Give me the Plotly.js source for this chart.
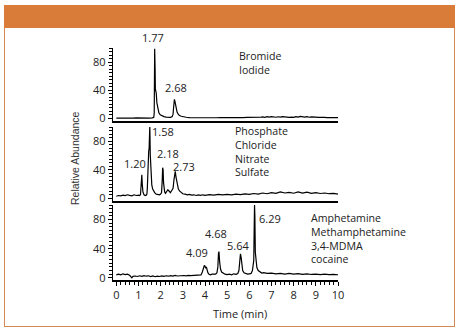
<!DOCTYPE html>
<html>
<head>
<meta charset="utf-8">
<script src="https://cdn.plot.ly/plotly-3.0.1.min.js"></script>
<style>
  html, body { margin: 0; padding: 0; background: #ffffff; }
  #frame { position: absolute; left: 4px; top: 5px; width: 449px; height: 320px; border: 1px solid #d38a55; background: #ffffff; }
  #bar { position: absolute; left: 4px; top: 5px; width: 451px; height: 23px; background: #d97c3a; }
  #chart { position: absolute; left: 0; top: 0; width: 459px; height: 330px; }
</style>
</head>
<body>
<div id="frame"></div>
<div id="bar"></div>
<div id="chart"></div>
<script>
// ---- Data (time in min, relative abundance) ----
const topTrace = [[0,0.5],[0.15,0.3],[0.3,0.6],[0.45,0.4],[0.6,0.5],[0.75,0.3],[0.9,0.6],[1.05,0.4],[1.2,0.5],[1.35,0.7],[1.5,0.5],[1.62,0.8],[1.69,1.5],[1.71,8],[1.72,45],[1.73,99],[1.74,97],[1.75,70],[1.76,42],[1.78,40],[1.80,36],[1.83,22],[1.87,13],[1.92,8],[1.98,5],[2.06,3.5],[2.15,2.5],[2.25,1.8],[2.35,1.5],[2.45,1.5],[2.52,2.5],[2.56,6],[2.58,14],[2.60,24],[2.62,27],[2.64,25],[2.67,19],[2.70,13],[2.74,9],[2.79,6],[2.85,4],[2.93,3],[3.02,2.2],[3.15,1.6],[3.3,1.2],[3.5,1],[3.7,0.9],[3.9,1],[4.1,0.8],[4.3,1],[4.5,0.9],[4.7,1.1],[4.9,0.9],[5.1,1],[5.3,1.2],[5.5,1],[5.7,1.1],[5.9,1.3],[6.1,1.1],[6.3,1.4],[6.5,1.6],[6.6,2.2],[6.7,1.5],[6.8,2.4],[6.9,1.7],[7.0,2.6],[7.1,2.0],[7.2,1.6],[7.3,2.3],[7.4,1.8],[7.5,2.5],[7.6,1.9],[7.7,1.6],[7.8,1.4],[7.9,1.8],[8.0,1.5],[8.1,2.6],[8.2,1.8],[8.3,2.9],[8.4,2.1],[8.5,1.7],[8.6,2.4],[8.7,1.6],[8.8,2.2],[8.9,1.5],[9.0,1.9],[9.1,1.4],[9.2,1.7],[9.3,1.3],[9.4,1.5],[9.5,1.2],[9.6,1.4],[9.7,1.1],[9.8,1.3],[9.9,1.0],[10,1.2]];

const midTrace = [[0,3],[0.1,4],[0.2,3.5],[0.3,4.5],[0.4,3.8],[0.5,5],[0.6,4.2],[0.7,3.5],[0.8,5],[0.9,4],[1.0,4.5],[1.05,4],[1.09,5],[1.11,14],[1.13,30],[1.15,33],[1.17,20],[1.2,9],[1.25,5],[1.3,4],[1.35,4.5],[1.38,6],[1.40,15],[1.42,40],[1.44,62],[1.46,66],[1.48,70],[1.50,100],[1.51,102],[1.52,85],[1.53,62],[1.55,40],[1.57,28],[1.60,19],[1.64,13],[1.68,10],[1.73,8],[1.8,6],[1.88,5.5],[1.95,5],[2.0,6],[2.04,8],[2.07,25],[2.09,43],[2.11,40],[2.13,22],[2.15,13],[2.18,9],[2.22,7],[2.27,9],[2.32,12],[2.36,11],[2.40,9],[2.44,8],[2.48,10],[2.52,12],[2.56,14],[2.60,26],[2.63,36],[2.66,38],[2.69,30],[2.72,24],[2.76,18],[2.80,13],[2.86,10],[2.93,7.5],[3.0,6.5],[3.1,6],[3.2,5],[3.3,5.5],[3.4,4.5],[3.5,5],[3.6,4],[3.7,4.8],[3.8,4.2],[3.9,5],[4.0,4.3],[4.2,5.2],[4.4,4.5],[4.6,5.5],[4.8,4.8],[5.0,5.6],[5.2,5],[5.4,6],[5.6,5.2],[5.8,6.2],[6.0,5.5],[6.2,6.8],[6.4,6],[6.6,7.5],[6.8,6.5],[7.0,8],[7.2,7],[7.4,9],[7.6,7.5],[7.8,8.5],[8.0,7.2],[8.2,9],[8.4,7.5],[8.6,8.8],[8.8,7],[9.0,8],[9.2,6.8],[9.4,7.5],[9.6,6.5],[9.8,7],[10,6]];

const botTrace = [[0,4],[0.1,5],[0.2,4],[0.3,5.5],[0.4,4.5],[0.5,5],[0.6,3.5],[0.65,1],[0.7,0],[0.75,2],[0.85,2.5],[0.95,1.8],[1.05,2.8],[1.15,2],[1.25,3],[1.35,2.2],[1.45,2.8],[1.55,1.8],[1.65,2.6],[1.75,1.5],[1.85,2.4],[1.95,1.8],[2.05,2.6],[2.15,2],[2.25,2.8],[2.35,2.2],[2.45,3],[2.55,2.4],[2.65,3.2],[2.75,2.5],[2.85,3],[2.95,2.6],[3.05,3.2],[3.15,2.8],[3.25,3.4],[3.35,2.9],[3.45,3.2],[3.55,2.8],[3.65,3.5],[3.75,3.2],[3.82,4],[3.88,8],[3.93,14],[3.97,17],[4.0,16],[4.03,13],[4.06,15],[4.09,11],[4.13,7],[4.18,5],[4.25,4],[4.32,5],[4.4,4.5],[4.48,5],[4.54,7],[4.58,15],[4.61,34],[4.63,36],[4.66,22],[4.7,12],[4.75,8],[4.82,6],[4.9,5],[5.0,4.5],[5.1,5],[5.2,4.2],[5.3,5.5],[5.4,4.8],[5.48,6],[5.53,10],[5.57,26],[5.6,33],[5.63,28],[5.66,16],[5.7,10],[5.76,7],[5.84,6],[5.92,5],[6.0,5.5],[6.08,6],[6.14,10],[6.18,22],[6.2,24],[6.22,70],[6.235,100],[6.25,85],[6.27,35],[6.3,22],[6.34,14],[6.4,10],[6.48,8],[6.56,6.5],[6.65,7],[6.8,6],[7.0,6.5],[7.2,5.5],[7.4,6.2],[7.6,5.2],[7.8,6],[8.0,5],[8.2,5.8],[8.4,4.8],[8.6,5.5],[8.8,4.6],[9.0,5.2],[9.2,4.5],[9.4,5],[9.6,4.3],[9.8,4.8],[10,4.2]];

const topPeakLabels = ["1.77", "2.68"];
const midPeakLabels = ["1.58", "1.20", "2.18", "2.73"];
const botPeakLabels = ["4.09", "4.68", "5.64", "6.29"];

const topNames = ["Bromide", "Iodide"];
const midNames = ["Phosphate", "Chloride", "Nitrate", "Sulfate"];
const botNames = ["Amphetamine", "Methamphetamine", "3,4-MDMA", "cocaine"];

const xTickVals = [0,1,2,3,4,5,6,7,8,9,10];
const yTickVals = [0,40,80];

const xTitle = "Time (min)";
const yTitle = "Relative Abundance";

// ---- Layout geometry (pixels) ----
const W = 459, H = 330;
const plotL = 113, plotR = 338, plotT = 48, plotB = 280;
const pw = plotR - plotL, ph = plotB - plotT;
const px = (x) => (x - plotL) / pw;
const py = (y) => (plotB - y) / ph;

const topLabelPos = [[153,38],[176,87]];
const midLabelPos = [[163,131.5],[134.5,163],[168,153],[184,166.5]];
const botLabelPos = [[197,252.5],[216,233],[238,245.5],[270,218]];
// left x, vertical centre of the text block
const topNamePos = [238, 62.5];
const midNamePos = [234, 151.5];
const botNamePos = [310, 238];

const FONT = "Open Sans, Noto Sans, sans-serif";
const TXT = "#222";

function mkTrace(d, xa, ya) {
  return {
    x: d.map(p => p[0]), y: d.map(p => p[1]),
    xaxis: xa, yaxis: ya, type: "scatter", mode: "lines",
    line: { color: "#000", width: 1.2 }, hoverinfo: "skip", showlegend: false
  };
}

const data = [
  mkTrace(topTrace, "x", "y"),
  mkTrace(midTrace, "x2", "y2"),
  mkTrace(botTrace, "x3", "y3")
];

const annotations = [];
function addLabels(labels, pos) {
  labels.forEach((t, i) => annotations.push({
    text: t, xref: "paper", yref: "paper", x: px(pos[i][0]), y: py(pos[i][1]),
    xanchor: "center", yanchor: "middle", showarrow: false, borderpad: 0,
    font: { family: FONT, size: 11, color: TXT }
  }));
}
function addNames(names, p0) {
  annotations.push({
    text: names.join("<br>"), xref: "paper", yref: "paper", x: px(p0[0]), y: py(p0[1]),
    xanchor: "left", yanchor: "middle", align: "left", showarrow: false, borderpad: 0,
    font: { family: FONT, size: 10.6, color: TXT }
  });
}
addLabels(topPeakLabels, topLabelPos);
addLabels(midPeakLabels, midLabelPos);
addLabels(botPeakLabels, botLabelPos);
addNames(topNames, topNamePos);
addNames(midNames, midNamePos);
addNames(botNames, botNamePos);

annotations.push({
  text: yTitle, xref: "paper", yref: "paper", x: px(75), y: py(158),
  xanchor: "center", yanchor: "middle", textangle: -90, showarrow: false,
  font: { family: "Liberation Sans, Arial, sans-serif", size: 10.5, color: "#333" }
});
annotations.push({
  text: xTitle, xref: "paper", yref: "paper", x: px(240), y: py(313),
  xanchor: "center", yanchor: "middle", showarrow: false,
  font: { family: FONT, size: 11, color: TXT }
});

const xRange = [-0.15, 10.0];
const yRange = [-3, 100];

function xAxis(anchor, showLabels) {
  const a = {
    domain: [0, 1], range: xRange, anchor: anchor, fixedrange: true,
    showline: true, linecolor: "#000", linewidth: 2, showgrid: false, zeroline: false,
    showticklabels: showLabels
  };
  if (showLabels) {
    Object.assign(a, {
      tickmode: "array", tickvals: xTickVals, ticks: "outside", ticklen: 4, tickwidth: 1, tickcolor: "#000",
      tickfont: { family: FONT, size: 11, color: TXT },
      minor: { dtick: 0.2, ticks: "outside", ticklen: 3, tickwidth: 1, tickcolor: "#000", showgrid: false }
    });
  } else {
    a.ticks = "";
  }
  return a;
}
function yAxis(domPx, anchor) {
  return {
    domain: [py(domPx[1]), py(domPx[0])], range: yRange, anchor: anchor, fixedrange: true,
    showline: true, linecolor: "#000", linewidth: 1.2, showgrid: false, zeroline: false,
    tickmode: "array", tickvals: yTickVals, ticks: "outside", ticklen: 4, tickwidth: 1, tickcolor: "#000",
    tickfont: { family: FONT, size: 11, color: TXT },
    minor: { dtick: 5, ticks: "outside", ticklen: 2.5, tickwidth: 1, tickcolor: "#000", showgrid: false }
  };
}

const layout = {
  width: W, height: H,
  margin: { l: plotL, r: W - plotR, t: plotT, b: H - plotB, pad: 0 },
  paper_bgcolor: "rgba(0,0,0,0)", plot_bgcolor: "rgba(0,0,0,0)",
  showlegend: false,
  xaxis: xAxis("y", false),
  xaxis2: xAxis("y2", false),
  xaxis3: xAxis("y3", true),
  yaxis: yAxis([48, 120.5], "x"),
  yaxis2: yAxis([127, 200.5], "x2"),
  yaxis3: yAxis([205, 280], "x3"),
  annotations: annotations
};

Plotly.newPlot("chart", data, layout, { staticPlot: true, displayModeBar: false });
</script>
</body>
</html>
